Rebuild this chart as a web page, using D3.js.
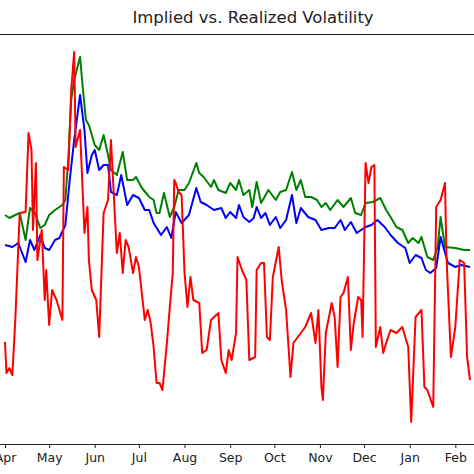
<!DOCTYPE html>
<html><head><meta charset="utf-8">
<script src="https://cdn.jsdelivr.net/npm/d3@7"></script>
<style>body{margin:0;background:#fff}svg{display:block}</style>
</head><body><svg id="c" width="474" height="474"></svg>
<script>
const monthLabels = ["Apr","May","Jun","Jul","Aug","Sep","Oct","Nov","Dec","Jan","Feb"];
const greenDays = [0,3,7,10,14,17,20,24,27,30,34,39,41,43,45,47,51,53,55,57,61,64,67,70,72,76,80,83,87,89,93,97,98,101,103,105,108,112,115,118,122,125,130,132,135,140,142,145,150,153,157,159,162,166,168,171,174,179,184,187,191,195,198,201,204,208,212,215,218,221,226,230,235,238,242,245,250,255,259,262,266,270,274,277,281,283,287,291,294,296,299,306,312,316];
const greenVals = [23.5,23.2,23.5,23.7,21.0,24.2,23.8,22.2,22.5,23.5,24.0,24.5,25.0,29.0,35.0,37.0,39.3,36.0,33.0,32.5,30.5,30.0,31.5,29.5,28.0,27.5,29.8,27.0,27.0,27.3,26.2,25.5,25.3,25.0,23.7,23.7,25.7,23.3,24.3,26.0,26.0,26.7,28.7,27.7,27.3,26.3,27.0,26.0,25.7,26.7,26.0,27.0,25.5,26.0,24.3,26.8,24.7,26.0,25.0,25.8,26.0,27.8,26.0,27.0,25.3,25.3,25.0,24.3,24.7,24.0,25.0,24.3,25.2,23.7,23.5,24.7,24.8,25.2,24.0,23.3,22.3,22.0,20.7,21.2,20.7,21.3,19.3,19.0,20.3,23.3,20.3,20.2,20.0,20.0];
const blueDays = [0,5,9,14,17,20,24,27,30,34,37,41,44,47,51,54,56,59,61,64,67,70,72,76,79,83,87,91,95,98,101,106,110,113,116,120,125,130,133,137,142,147,150,153,157,159,162,166,169,171,174,177,180,184,187,191,195,198,201,206,211,215,220,224,228,231,235,239,245,249,253,258,262,267,272,275,279,283,286,289,293,296,301,306,310,316];
const blueVals = [20.5,20.3,20.7,18.8,21.0,20.0,21.5,20.2,20.0,21.0,21.2,22.5,27.0,31.0,35.5,32.0,27.7,29.5,30.0,28.0,28.5,28.5,25.8,25.5,27.5,24.5,25.5,25.2,24.0,24.0,22.7,21.5,22.3,21.2,23.8,22.7,23.5,26.2,24.8,24.5,24.0,24.2,23.2,23.8,23.2,24.5,23.3,22.8,23.2,24.3,23.2,23.7,22.5,23.3,22.2,23.0,25.5,22.7,24.2,23.3,23.0,22.0,22.2,22.2,23.0,22.0,22.8,21.7,22.3,22.5,23.0,22.3,21.5,20.7,20.2,18.7,19.5,19.2,18.0,17.7,18.2,21.3,18.7,18.3,18.5,18.3];
const redDays = [0,1,3,5,7,10,14,16,18,19,21,22,25,27,28,30,32,35,39,40,43,45,47,48,51,54,56,57,59,62,64,67,70,72,76,78,80,82,84,87,89,91,95,97,99,101,103,105,107,110,112,114,115,116,118,120,122,124,126,128,132,134,137,140,145,147,150,152,154,157,158,161,164,166,170,171,174,176,178,180,182,186,188,191,194,196,199,204,208,211,213,215,216,218,222,224,226,228,230,233,235,237,240,242,243,245,247,249,251,252,255,257,259,262,266,270,274,276,279,283,285,287,291,293,296,299,300,303,306,309,312,314,316];
const redVals = [10.8,7.7,8.2,7.5,13.0,23.7,23.8,31.7,30.0,22.0,28.7,19.0,22.0,15.0,18.0,12.5,16.0,15.0,13.0,28.3,28.0,36.0,39.8,30.3,32.0,21.7,24.3,19.0,16.0,15.0,11.3,23.7,25.0,31.0,19.7,21.7,17.7,21.0,20.3,17.7,19.3,18.3,13.0,14.0,12.7,10.3,6.7,6.7,6.0,10.7,14.3,17.7,27.0,26.7,25.8,25.5,17.7,14.3,17.3,15.0,14.7,9.7,10.0,13.0,13.7,9.0,7.7,10.0,9.0,11.7,19.3,18.0,17.0,9.0,9.3,18.0,18.7,18.7,11.3,11.0,17.3,20.3,17.0,14.0,7.3,10.7,11.3,12.3,13.7,10.7,14.0,6.3,5.0,11.7,14.7,13.3,8.3,15.3,15.7,17.3,10.0,12.7,15.3,15.0,11.3,28.7,26.7,28.3,28.5,10.3,12.3,9.7,10.7,12.0,11.7,12.3,10.3,2.8,13.3,14.0,6.3,6.0,4.3,24.3,25.0,26.7,19.3,9.3,12.3,19.0,18.7,9.3,7.0];

const svg = d3.select("#c");
const start = new Date(2023,3,1);
const x = d3.scaleTime().domain([start, new Date(2024,2,1)]).range([5,498]);
const y = d3.scaleLinear().domain([0,45]).range([450,0]);
const font = "DejaVu Sans, sans-serif";

svg.append("text").attr("x",253).attr("y",23).attr("text-anchor","middle")
  .attr("font-family",font).attr("font-size",16.5).attr("fill","#222").text("Implied vs. Realized Volatility");

svg.append("line").attr("x1",0).attr("x2",474).attr("y1",34.5).attr("y2",34.5).attr("stroke","#222").attr("stroke-width",1.2);

const g = svg.append("g");
function draw(days, vals, color){
  const pts = days.map((d,i)=>[d3.timeDay.offset(start,d), vals[i]]);
  g.append("path").datum(pts).attr("fill","none").attr("stroke",color).attr("stroke-width",2)
   .attr("stroke-linejoin","round")
   .attr("d", d3.line().x(p=>x(p[0])).y(p=>y(p[1])));
}
draw(greenDays, greenVals, "green");
draw(blueDays, blueVals, "blue");
draw(redDays, redVals, "red");

const ticks = monthLabels.map((m,i)=>d3.timeMonth.offset(start,i));
const ax = svg.append("g").attr("transform","translate(0,444)")
  .call(d3.axisBottom(x).tickValues(ticks).tickFormat((d,i)=>monthLabels[i]).tickSize(4).tickPadding(5));
ax.select(".domain").remove();
svg.append("line").attr("x1",0).attr("x2",474).attr("y1",444.5).attr("y2",444.5).attr("stroke","#222").attr("stroke-width",1.2);
ax.selectAll("text").attr("font-family",font).attr("font-size",12.5).attr("fill","#222");
ax.selectAll("line").attr("stroke","#222");
</script></body></html>
